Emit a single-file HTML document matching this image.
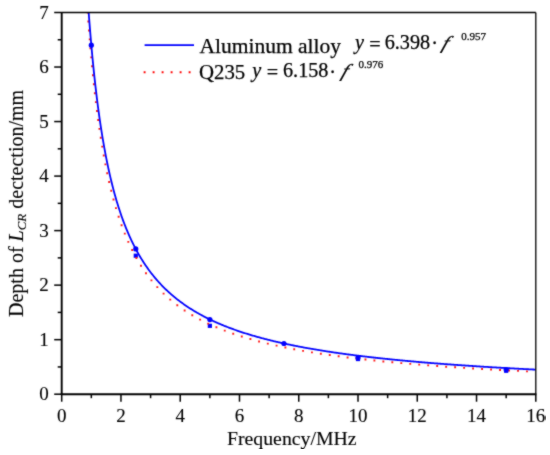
<!DOCTYPE html>
<html><head><meta charset="utf-8"><style>
html,body{margin:0;padding:0;background:#fff;}
body{width:550px;height:455px;overflow:hidden;}
svg{display:block;}
text{stroke:#000;stroke-width:0.12px;}
.lg{stroke-width:0.25px;}
</style></head><body>
<svg width="550" height="455" viewBox="0 0 550 455">
<defs><filter id="soft" x="0" y="0" width="100%" height="100%" color-interpolation-filters="sRGB"><feConvolveMatrix order="3" kernelMatrix="1 2 1 2 16 2 1 2 1" divisor="28" edgeMode="duplicate"/></filter></defs>
<rect width="550" height="455" fill="#fff"/>
<g filter="url(#soft)">
<defs><clipPath id="c"><rect x="61.7" y="12.5" width="474.09999999999997" height="381.7"/></clipPath></defs>
<rect x="133.68" y="253.60" width="4.2" height="4.2" fill="#0000ff"/>
<rect x="207.76" y="323.72" width="4.2" height="4.2" fill="#0000ff"/>
<rect x="355.91" y="356.93" width="4.2" height="4.2" fill="#0000ff"/>
<rect x="504.07" y="368.65" width="4.2" height="4.2" fill="#0000ff"/>
<g clip-path="url(#c)">
<path d="M87.69,12.50 L88.43,22.91 L89.18,32.76 L89.93,42.10 L90.67,50.96 L91.42,59.38 L92.17,67.40 L92.91,75.03 L93.66,82.31 L94.41,89.27 L95.15,95.91 L95.90,102.27 L96.65,108.36 L97.39,114.20 L98.14,119.80 L98.89,125.18 L99.63,130.35 L100.38,135.33 L101.13,140.11 L101.88,144.72 L102.62,149.17 L103.37,153.46 L104.12,157.60 L104.86,161.59 L105.61,165.45 L106.36,169.19 L107.10,172.80 L107.85,176.30 L108.60,179.69 L109.34,182.97 L110.09,186.15 L110.84,189.24 L111.58,192.23 L112.33,195.14 L113.08,197.97 L113.83,200.71 L114.57,203.38 L115.32,205.97 L116.07,208.50 L116.81,210.96 L117.56,213.35 L118.31,215.68 L119.05,217.95 L119.80,220.16 L120.55,222.31 L121.29,224.42 L122.04,226.47 L122.79,228.47 L123.53,230.42 L124.28,232.33 L125.03,234.19 L125.77,236.02 L126.52,237.79 L127.27,239.53 L128.02,241.23 L128.76,242.90 L129.51,244.52 L130.26,246.11 L131.00,247.67 L131.75,249.20 L132.50,250.69 L133.24,252.15 L133.99,253.59 L134.74,254.99 L135.48,256.36 L136.23,257.71 L136.98,259.03 L137.72,260.33 L138.47,261.60 L139.22,262.85 L139.97,264.07 L140.71,265.27 L141.46,266.45 L142.21,267.61 L142.95,268.74 L143.70,269.86 L144.45,270.95 L145.19,272.03 L145.94,273.09 L146.69,274.13 L147.43,275.15 L148.18,276.15 L148.93,277.14 L149.67,278.11 L150.42,279.06 L151.17,280.00 L151.91,280.92 L152.66,281.83 L153.41,282.72 L154.16,283.60 L154.90,284.47 L155.65,285.32 L156.40,286.16 L157.14,286.98 L157.89,287.80 L158.64,288.60 L159.38,289.38 L160.13,290.16 L160.88,290.93 L161.62,291.68 L162.37,292.42 L163.12,293.15 L163.86,293.87 L164.61,294.58 L165.36,295.28 L166.11,295.98 L166.85,296.66 L167.60,297.33 L168.35,297.99 L169.09,298.64 L169.84,299.29 L170.59,299.92 L171.33,300.55 L172.08,301.17 L172.83,301.78 L173.57,302.38 L174.32,302.98 L175.07,303.56 L175.81,304.14 L176.56,304.71 L177.31,305.28 L178.05,305.83 L178.80,306.38 L179.55,306.93 L180.30,307.46 L181.04,307.99 L181.79,308.52 L182.54,309.03 L183.28,309.54 L184.03,310.05 L184.78,310.55 L185.52,311.04 L186.27,311.53 L187.02,312.01 L187.76,312.48 L188.51,312.95 L189.26,313.42 L190.00,313.88 L190.75,314.33 L191.50,314.78 L192.25,315.22 L192.99,315.66 L193.74,316.09 L194.49,316.52 L195.23,316.95 L195.98,317.37 L196.73,317.78 L197.47,318.19 L198.22,318.60 L198.97,319.00 L199.71,319.40 L200.46,319.79 L201.21,320.18 L201.95,320.56 L202.70,320.94 L203.45,321.32 L204.19,321.69 L204.94,322.06 L205.69,322.43 L206.44,322.79 L207.18,323.15 L207.93,323.50 L208.68,323.85 L209.42,324.20 L210.17,324.54 L210.92,324.88 L211.66,325.22 L212.41,325.55 L213.16,325.88 L213.90,326.21 L214.65,326.53 L215.40,326.86 L216.14,327.17 L216.89,327.49 L217.64,327.80 L218.39,328.11 L219.13,328.41 L219.88,328.72 L220.63,329.02 L221.37,329.32 L222.12,329.61 L222.87,329.90 L223.61,330.19 L224.36,330.48 L225.11,330.76 L225.85,331.05 L226.60,331.32 L227.35,331.60 L228.09,331.88 L228.84,332.15 L229.59,332.42 L230.33,332.68 L231.08,332.95 L231.83,333.21 L232.58,333.47 L233.32,333.73 L234.07,333.98 L234.82,334.24 L235.56,334.49 L236.31,334.74 L237.06,334.99 L237.80,335.23 L238.55,335.47 L239.30,335.72 L240.04,335.95 L240.79,336.19 L241.54,336.43 L242.28,336.66 L243.03,336.89 L243.78,337.12 L244.53,337.35 L245.27,337.57 L246.02,337.80 L246.77,338.02 L247.51,338.24 L248.26,338.46 L249.01,338.68 L249.75,338.89 L250.50,339.10 L251.25,339.32 L251.99,339.53 L252.74,339.74 L253.49,339.94 L254.23,340.15 L254.98,340.35 L255.73,340.55 L256.47,340.75 L257.22,340.95 L257.97,341.15 L258.72,341.35 L259.46,341.54 L260.21,341.74 L260.96,341.93 L261.70,342.12 L262.45,342.31 L263.20,342.50 L263.94,342.68 L264.69,342.87 L265.44,343.05 L266.18,343.23 L266.93,343.41 L267.68,343.59 L268.42,343.77 L269.17,343.95 L269.92,344.13 L270.67,344.30 L271.41,344.47 L272.16,344.65 L272.91,344.82 L273.65,344.99 L274.40,345.16 L275.15,345.32 L275.89,345.49 L276.64,345.65 L277.39,345.82 L278.13,345.98 L278.88,346.14 L279.63,346.30 L280.37,346.46 L281.12,346.62 L281.87,346.78 L282.62,346.94 L283.36,347.09 L284.11,347.25 L284.86,347.40 L285.60,347.55 L286.35,347.70 L287.10,347.85 L287.84,348.00 L288.59,348.15 L289.34,348.30 L290.08,348.45 L290.83,348.59 L291.58,348.74 L292.32,348.88 L293.07,349.02 L293.82,349.16 L294.56,349.30 L295.31,349.45 L296.06,349.58 L296.81,349.72 L297.55,349.86 L298.30,350.00 L299.05,350.13 L299.79,350.27 L300.54,350.40 L301.29,350.53 L302.03,350.67 L302.78,350.80 L303.53,350.93 L304.27,351.06 L305.02,351.19 L305.77,351.32 L306.51,351.45 L307.26,351.57 L308.01,351.70 L308.76,351.82 L309.50,351.95 L310.25,352.07 L311.00,352.20 L311.74,352.32 L312.49,352.44 L313.24,352.56 L313.98,352.68 L314.73,352.80 L315.48,352.92 L316.22,353.04 L316.97,353.16 L317.72,353.27 L318.46,353.39 L319.21,353.50 L319.96,353.62 L320.70,353.73 L321.45,353.85 L322.20,353.96 L322.95,354.07 L323.69,354.18 L324.44,354.29 L325.19,354.40 L325.93,354.51 L326.68,354.62 L327.43,354.73 L328.17,354.84 L328.92,354.95 L329.67,355.05 L330.41,355.16 L331.16,355.27 L331.91,355.37 L332.65,355.48 L333.40,355.58 L334.15,355.68 L334.90,355.79 L335.64,355.89 L336.39,355.99 L337.14,356.09 L337.88,356.19 L338.63,356.29 L339.38,356.39 L340.12,356.49 L340.87,356.59 L341.62,356.69 L342.36,356.78 L343.11,356.88 L343.86,356.98 L344.60,357.07 L345.35,357.17 L346.10,357.26 L346.84,357.36 L347.59,357.45 L348.34,357.55 L349.09,357.64 L349.83,357.73 L350.58,357.82 L351.33,357.91 L352.07,358.01 L352.82,358.10 L353.57,358.19 L354.31,358.28 L355.06,358.36 L355.81,358.45 L356.55,358.54 L357.30,358.63 L358.05,358.72 L358.79,358.80 L359.54,358.89 L360.29,358.98 L361.04,359.06 L361.78,359.15 L362.53,359.23 L363.28,359.32 L364.02,359.40 L364.77,359.49 L365.52,359.57 L366.26,359.65 L367.01,359.73 L367.76,359.82 L368.50,359.90 L369.25,359.98 L370.00,360.06 L370.74,360.14 L371.49,360.22 L372.24,360.30 L372.98,360.38 L373.73,360.46 L374.48,360.54 L375.23,360.62 L375.97,360.69 L376.72,360.77 L377.47,360.85 L378.21,360.93 L378.96,361.00 L379.71,361.08 L380.45,361.15 L381.20,361.23 L381.95,361.30 L382.69,361.38 L383.44,361.45 L384.19,361.53 L384.93,361.60 L385.68,361.67 L386.43,361.75 L387.18,361.82 L387.92,361.89 L388.67,361.96 L389.42,362.04 L390.16,362.11 L390.91,362.18 L391.66,362.25 L392.40,362.32 L393.15,362.39 L393.90,362.46 L394.64,362.53 L395.39,362.60 L396.14,362.67 L396.88,362.74 L397.63,362.80 L398.38,362.87 L399.12,362.94 L399.87,363.01 L400.62,363.07 L401.37,363.14 L402.11,363.21 L402.86,363.27 L403.61,363.34 L404.35,363.41 L405.10,363.47 L405.85,363.54 L406.59,363.60 L407.34,363.67 L408.09,363.73 L408.83,363.79 L409.58,363.86 L410.33,363.92 L411.07,363.98 L411.82,364.05 L412.57,364.11 L413.32,364.17 L414.06,364.23 L414.81,364.30 L415.56,364.36 L416.30,364.42 L417.05,364.48 L417.80,364.54 L418.54,364.60 L419.29,364.66 L420.04,364.72 L420.78,364.78 L421.53,364.84 L422.28,364.90 L423.02,364.96 L423.77,365.02 L424.52,365.08 L425.26,365.14 L426.01,365.19 L426.76,365.25 L427.51,365.31 L428.25,365.37 L429.00,365.42 L429.75,365.48 L430.49,365.54 L431.24,365.59 L431.99,365.65 L432.73,365.71 L433.48,365.76 L434.23,365.82 L434.97,365.87 L435.72,365.93 L436.47,365.98 L437.21,366.04 L437.96,366.09 L438.71,366.15 L439.46,366.20 L440.20,366.26 L440.95,366.31 L441.70,366.36 L442.44,366.42 L443.19,366.47 L443.94,366.52 L444.68,366.57 L445.43,366.63 L446.18,366.68 L446.92,366.73 L447.67,366.78 L448.42,366.84 L449.16,366.89 L449.91,366.94 L450.66,366.99 L451.41,367.04 L452.15,367.09 L452.90,367.14 L453.65,367.19 L454.39,367.24 L455.14,367.29 L455.89,367.34 L456.63,367.39 L457.38,367.44 L458.13,367.49 L458.87,367.54 L459.62,367.59 L460.37,367.64 L461.11,367.68 L461.86,367.73 L462.61,367.78 L463.35,367.83 L464.10,367.88 L464.85,367.92 L465.60,367.97 L466.34,368.02 L467.09,368.07 L467.84,368.11 L468.58,368.16 L469.33,368.21 L470.08,368.25 L470.82,368.30 L471.57,368.34 L472.32,368.39 L473.06,368.44 L473.81,368.48 L474.56,368.53 L475.30,368.57 L476.05,368.62 L476.80,368.66 L477.55,368.71 L478.29,368.75 L479.04,368.80 L479.79,368.84 L480.53,368.88 L481.28,368.93 L482.03,368.97 L482.77,369.02 L483.52,369.06 L484.27,369.10 L485.01,369.15 L485.76,369.19 L486.51,369.23 L487.25,369.28 L488.00,369.32 L488.75,369.36 L489.49,369.40 L490.24,369.44 L490.99,369.49 L491.74,369.53 L492.48,369.57 L493.23,369.61 L493.98,369.65 L494.72,369.69 L495.47,369.74 L496.22,369.78 L496.96,369.82 L497.71,369.86 L498.46,369.90 L499.20,369.94 L499.95,369.98 L500.70,370.02 L501.44,370.06 L502.19,370.10 L502.94,370.14 L503.69,370.18 L504.43,370.22 L505.18,370.26 L505.93,370.30 L506.67,370.34 L507.42,370.38 L508.17,370.42 L508.91,370.45 L509.66,370.49 L510.41,370.53 L511.15,370.57 L511.90,370.61 L512.65,370.65 L513.39,370.68 L514.14,370.72 L514.89,370.76 L515.63,370.80 L516.38,370.83 L517.13,370.87 L517.88,370.91 L518.62,370.95 L519.37,370.98 L520.12,371.02 L520.86,371.06 L521.61,371.09 L522.36,371.13 L523.10,371.17 L523.85,371.20 L524.60,371.24 L525.34,371.28 L526.09,371.31 L526.84,371.35 L527.58,371.38 L528.33,371.42 L529.08,371.45 L529.83,371.49 L530.57,371.53 L531.32,371.56 L532.07,371.60 L532.81,371.63 L533.56,371.67 L534.31,371.70 L535.05,371.73 L535.80,371.77" fill="none" stroke="#ff1a1a" stroke-width="1.9" stroke-dasharray="0 9" stroke-linecap="square"/>
<path d="M88.67,12.50 L89.42,22.33 L90.16,31.65 L90.91,40.51 L91.65,48.93 L92.40,56.96 L93.15,64.61 L93.89,71.91 L94.64,78.90 L95.38,85.58 L96.13,91.97 L96.87,98.10 L97.62,103.99 L98.36,109.63 L99.11,115.06 L99.85,120.28 L100.60,125.31 L101.34,130.14 L102.09,134.81 L102.83,139.31 L103.58,143.65 L104.32,147.84 L105.07,151.90 L105.81,155.82 L106.56,159.61 L107.30,163.28 L108.05,166.83 L108.79,170.28 L109.54,173.61 L110.28,176.85 L111.03,180.00 L111.78,183.05 L112.52,186.01 L113.27,188.89 L114.01,191.69 L114.76,194.42 L115.50,197.06 L116.25,199.64 L116.99,202.15 L117.74,204.60 L118.48,206.98 L119.23,209.30 L119.97,211.57 L120.72,213.77 L121.46,215.93 L122.21,218.03 L122.95,220.08 L123.70,222.08 L124.44,224.04 L125.19,225.95 L125.93,227.82 L126.68,229.65 L127.42,231.43 L128.17,233.18 L128.92,234.89 L129.66,236.56 L130.41,238.20 L131.15,239.80 L131.90,241.37 L132.64,242.91 L133.39,244.41 L134.13,245.89 L134.88,247.33 L135.62,248.75 L136.37,250.14 L137.11,251.50 L137.86,252.84 L138.60,254.15 L139.35,255.44 L140.09,256.70 L140.84,257.94 L141.58,259.15 L142.33,260.35 L143.07,261.52 L143.82,262.67 L144.56,263.81 L145.31,264.92 L146.05,266.01 L146.80,267.09 L147.55,268.14 L148.29,269.18 L149.04,270.20 L149.78,271.21 L150.53,272.19 L151.27,273.17 L152.02,274.12 L152.76,275.06 L153.51,275.99 L154.25,276.90 L155.00,277.80 L155.74,278.68 L156.49,279.55 L157.23,280.40 L157.98,281.25 L158.72,282.08 L159.47,282.90 L160.21,283.70 L160.96,284.50 L161.70,285.28 L162.45,286.05 L163.19,286.81 L163.94,287.56 L164.69,288.30 L165.43,289.03 L166.18,289.74 L166.92,290.45 L167.67,291.15 L168.41,291.84 L169.16,292.52 L169.90,293.19 L170.65,293.85 L171.39,294.50 L172.14,295.15 L172.88,295.78 L173.63,296.41 L174.37,297.03 L175.12,297.64 L175.86,298.24 L176.61,298.84 L177.35,299.43 L178.10,300.01 L178.84,300.58 L179.59,301.15 L180.33,301.71 L181.08,302.26 L181.83,302.80 L182.57,303.34 L183.32,303.88 L184.06,304.40 L184.81,304.92 L185.55,305.44 L186.30,305.95 L187.04,306.45 L187.79,306.94 L188.53,307.44 L189.28,307.92 L190.02,308.40 L190.77,308.87 L191.51,309.34 L192.26,309.81 L193.00,310.26 L193.75,310.72 L194.49,311.17 L195.24,311.61 L195.98,312.05 L196.73,312.48 L197.47,312.91 L198.22,313.34 L198.96,313.76 L199.71,314.17 L200.46,314.58 L201.20,314.99 L201.95,315.39 L202.69,315.79 L203.44,316.19 L204.18,316.58 L204.93,316.96 L205.67,317.35 L206.42,317.73 L207.16,318.10 L207.91,318.47 L208.65,318.84 L209.40,319.20 L210.14,319.56 L210.89,319.92 L211.63,320.27 L212.38,320.62 L213.12,320.97 L213.87,321.31 L214.61,321.65 L215.36,321.99 L216.10,322.32 L216.85,322.65 L217.60,322.98 L218.34,323.31 L219.09,323.63 L219.83,323.95 L220.58,324.26 L221.32,324.57 L222.07,324.88 L222.81,325.19 L223.56,325.49 L224.30,325.80 L225.05,326.09 L225.79,326.39 L226.54,326.68 L227.28,326.97 L228.03,327.26 L228.77,327.55 L229.52,327.83 L230.26,328.11 L231.01,328.39 L231.75,328.67 L232.50,328.94 L233.24,329.21 L233.99,329.48 L234.73,329.75 L235.48,330.01 L236.23,330.27 L236.97,330.53 L237.72,330.79 L238.46,331.05 L239.21,331.30 L239.95,331.55 L240.70,331.80 L241.44,332.05 L242.19,332.30 L242.93,332.54 L243.68,332.78 L244.42,333.02 L245.17,333.26 L245.91,333.50 L246.66,333.73 L247.40,333.96 L248.15,334.19 L248.89,334.42 L249.64,334.65 L250.38,334.87 L251.13,335.10 L251.87,335.32 L252.62,335.54 L253.37,335.76 L254.11,335.97 L254.86,336.19 L255.60,336.40 L256.35,336.61 L257.09,336.82 L257.84,337.03 L258.58,337.24 L259.33,337.44 L260.07,337.65 L260.82,337.85 L261.56,338.05 L262.31,338.25 L263.05,338.45 L263.80,338.65 L264.54,338.84 L265.29,339.04 L266.03,339.23 L266.78,339.42 L267.52,339.61 L268.27,339.80 L269.01,339.99 L269.76,340.17 L270.51,340.36 L271.25,340.54 L272.00,340.72 L272.74,340.90 L273.49,341.08 L274.23,341.26 L274.98,341.44 L275.72,341.61 L276.47,341.79 L277.21,341.96 L277.96,342.13 L278.70,342.30 L279.45,342.47 L280.19,342.64 L280.94,342.81 L281.68,342.98 L282.43,343.14 L283.17,343.31 L283.92,343.47 L284.66,343.63 L285.41,343.79 L286.15,343.95 L286.90,344.11 L287.64,344.27 L288.39,344.43 L289.14,344.58 L289.88,344.74 L290.63,344.89 L291.37,345.05 L292.12,345.20 L292.86,345.35 L293.61,345.50 L294.35,345.65 L295.10,345.80 L295.84,345.95 L296.59,346.09 L297.33,346.24 L298.08,346.38 L298.82,346.53 L299.57,346.67 L300.31,346.81 L301.06,346.95 L301.80,347.09 L302.55,347.23 L303.29,347.37 L304.04,347.51 L304.78,347.65 L305.53,347.78 L306.28,347.92 L307.02,348.05 L307.77,348.19 L308.51,348.32 L309.26,348.45 L310.00,348.58 L310.75,348.71 L311.49,348.84 L312.24,348.97 L312.98,349.10 L313.73,349.23 L314.47,349.35 L315.22,349.48 L315.96,349.61 L316.71,349.73 L317.45,349.85 L318.20,349.98 L318.94,350.10 L319.69,350.22 L320.43,350.34 L321.18,350.46 L321.92,350.58 L322.67,350.70 L323.42,350.82 L324.16,350.94 L324.91,351.06 L325.65,351.17 L326.40,351.29 L327.14,351.40 L327.89,351.52 L328.63,351.63 L329.38,351.75 L330.12,351.86 L330.87,351.97 L331.61,352.08 L332.36,352.19 L333.10,352.30 L333.85,352.41 L334.59,352.52 L335.34,352.63 L336.08,352.74 L336.83,352.85 L337.57,352.95 L338.32,353.06 L339.06,353.17 L339.81,353.27 L340.55,353.38 L341.30,353.48 L342.05,353.58 L342.79,353.69 L343.54,353.79 L344.28,353.89 L345.03,353.99 L345.77,354.09 L346.52,354.20 L347.26,354.29 L348.01,354.39 L348.75,354.49 L349.50,354.59 L350.24,354.69 L350.99,354.79 L351.73,354.88 L352.48,354.98 L353.22,355.08 L353.97,355.17 L354.71,355.27 L355.46,355.36 L356.20,355.46 L356.95,355.55 L357.69,355.64 L358.44,355.73 L359.19,355.83 L359.93,355.92 L360.68,356.01 L361.42,356.10 L362.17,356.19 L362.91,356.28 L363.66,356.37 L364.40,356.46 L365.15,356.55 L365.89,356.64 L366.64,356.72 L367.38,356.81 L368.13,356.90 L368.87,356.99 L369.62,357.07 L370.36,357.16 L371.11,357.24 L371.85,357.33 L372.60,357.41 L373.34,357.50 L374.09,357.58 L374.83,357.66 L375.58,357.75 L376.32,357.83 L377.07,357.91 L377.82,357.99 L378.56,358.08 L379.31,358.16 L380.05,358.24 L380.80,358.32 L381.54,358.40 L382.29,358.48 L383.03,358.56 L383.78,358.64 L384.52,358.71 L385.27,358.79 L386.01,358.87 L386.76,358.95 L387.50,359.02 L388.25,359.10 L388.99,359.18 L389.74,359.25 L390.48,359.33 L391.23,359.41 L391.97,359.48 L392.72,359.56 L393.46,359.63 L394.21,359.70 L394.96,359.78 L395.70,359.85 L396.45,359.92 L397.19,360.00 L397.94,360.07 L398.68,360.14 L399.43,360.21 L400.17,360.29 L400.92,360.36 L401.66,360.43 L402.41,360.50 L403.15,360.57 L403.90,360.64 L404.64,360.71 L405.39,360.78 L406.13,360.85 L406.88,360.92 L407.62,360.99 L408.37,361.05 L409.11,361.12 L409.86,361.19 L410.60,361.26 L411.35,361.32 L412.10,361.39 L412.84,361.46 L413.59,361.52 L414.33,361.59 L415.08,361.66 L415.82,361.72 L416.57,361.79 L417.31,361.85 L418.06,361.92 L418.80,361.98 L419.55,362.05 L420.29,362.11 L421.04,362.17 L421.78,362.24 L422.53,362.30 L423.27,362.36 L424.02,362.43 L424.76,362.49 L425.51,362.55 L426.25,362.61 L427.00,362.67 L427.74,362.73 L428.49,362.80 L429.23,362.86 L429.98,362.92 L430.73,362.98 L431.47,363.04 L432.22,363.10 L432.96,363.16 L433.71,363.22 L434.45,363.28 L435.20,363.34 L435.94,363.39 L436.69,363.45 L437.43,363.51 L438.18,363.57 L438.92,363.63 L439.67,363.69 L440.41,363.74 L441.16,363.80 L441.90,363.86 L442.65,363.91 L443.39,363.97 L444.14,364.03 L444.88,364.08 L445.63,364.14 L446.37,364.19 L447.12,364.25 L447.87,364.31 L448.61,364.36 L449.36,364.42 L450.10,364.47 L450.85,364.52 L451.59,364.58 L452.34,364.63 L453.08,364.69 L453.83,364.74 L454.57,364.79 L455.32,364.85 L456.06,364.90 L456.81,364.95 L457.55,365.01 L458.30,365.06 L459.04,365.11 L459.79,365.16 L460.53,365.21 L461.28,365.27 L462.02,365.32 L462.77,365.37 L463.51,365.42 L464.26,365.47 L465.01,365.52 L465.75,365.57 L466.50,365.62 L467.24,365.67 L467.99,365.72 L468.73,365.77 L469.48,365.82 L470.22,365.87 L470.97,365.92 L471.71,365.97 L472.46,366.02 L473.20,366.07 L473.95,366.12 L474.69,366.17 L475.44,366.21 L476.18,366.26 L476.93,366.31 L477.67,366.36 L478.42,366.41 L479.16,366.45 L479.91,366.50 L480.65,366.55 L481.40,366.60 L482.14,366.64 L482.89,366.69 L483.64,366.74 L484.38,366.78 L485.13,366.83 L485.87,366.87 L486.62,366.92 L487.36,366.97 L488.11,367.01 L488.85,367.06 L489.60,367.10 L490.34,367.15 L491.09,367.19 L491.83,367.24 L492.58,367.28 L493.32,367.33 L494.07,367.37 L494.81,367.41 L495.56,367.46 L496.30,367.50 L497.05,367.55 L497.79,367.59 L498.54,367.63 L499.28,367.68 L500.03,367.72 L500.78,367.76 L501.52,367.81 L502.27,367.85 L503.01,367.89 L503.76,367.93 L504.50,367.98 L505.25,368.02 L505.99,368.06 L506.74,368.10 L507.48,368.14 L508.23,368.18 L508.97,368.23 L509.72,368.27 L510.46,368.31 L511.21,368.35 L511.95,368.39 L512.70,368.43 L513.44,368.47 L514.19,368.51 L514.93,368.55 L515.68,368.59 L516.42,368.63 L517.17,368.67 L517.91,368.71 L518.66,368.75 L519.41,368.79 L520.15,368.83 L520.90,368.87 L521.64,368.91 L522.39,368.95 L523.13,368.99 L523.88,369.03 L524.62,369.07 L525.37,369.11 L526.11,369.14 L526.86,369.18 L527.60,369.22 L528.35,369.26 L529.09,369.30 L529.84,369.34 L530.58,369.37 L531.33,369.41 L532.07,369.45 L532.82,369.49 L533.56,369.52 L534.31,369.56 L535.05,369.60 L535.80,369.63" fill="none" stroke="#0000ff" stroke-width="1.8"/>
</g>
<circle cx="91.33" cy="45.22" r="2.6" fill="#0000ff"/>
<circle cx="135.78" cy="248.88" r="2.6" fill="#0000ff"/>
<circle cx="209.86" cy="319.60" r="2.6" fill="#0000ff"/>
<circle cx="283.93" cy="343.49" r="2.6" fill="#0000ff"/>
<circle cx="358.01" cy="357.67" r="2.6" fill="#0000ff"/>
<circle cx="506.17" cy="369.66" r="2.6" fill="#0000ff"/>
<line x1="61.7" y1="12.5" x2="535.8" y2="12.5" stroke="#000" stroke-width="1.3"/>
<line x1="535.8" y1="12.5" x2="535.8" y2="394.2" stroke="#000" stroke-width="1.3"/>
<line x1="61.7" y1="11.9" x2="61.7" y2="395.0" stroke="#000" stroke-width="1.9"/>
<line x1="60.800000000000004" y1="394.2" x2="536.4" y2="394.2" stroke="#000" stroke-width="1.9"/>
<line x1="54.2" y1="394.20" x2="61.7" y2="394.20" stroke="#000" stroke-width="1.5"/>
<line x1="57.7" y1="366.94" x2="61.7" y2="366.94" stroke="#000" stroke-width="1.5"/>
<text x="48.8" y="400.40" font-family='"Liberation Serif", "Times New Roman", serif' font-size="19" text-anchor="end">0</text>
<line x1="54.2" y1="339.67" x2="61.7" y2="339.67" stroke="#000" stroke-width="1.5"/>
<line x1="57.7" y1="312.41" x2="61.7" y2="312.41" stroke="#000" stroke-width="1.5"/>
<text x="48.8" y="345.87" font-family='"Liberation Serif", "Times New Roman", serif' font-size="19" text-anchor="end">1</text>
<line x1="54.2" y1="285.14" x2="61.7" y2="285.14" stroke="#000" stroke-width="1.5"/>
<line x1="57.7" y1="257.88" x2="61.7" y2="257.88" stroke="#000" stroke-width="1.5"/>
<text x="48.8" y="291.34" font-family='"Liberation Serif", "Times New Roman", serif' font-size="19" text-anchor="end">2</text>
<line x1="54.2" y1="230.61" x2="61.7" y2="230.61" stroke="#000" stroke-width="1.5"/>
<line x1="57.7" y1="203.35" x2="61.7" y2="203.35" stroke="#000" stroke-width="1.5"/>
<text x="48.8" y="236.81" font-family='"Liberation Serif", "Times New Roman", serif' font-size="19" text-anchor="end">3</text>
<line x1="54.2" y1="176.09" x2="61.7" y2="176.09" stroke="#000" stroke-width="1.5"/>
<line x1="57.7" y1="148.82" x2="61.7" y2="148.82" stroke="#000" stroke-width="1.5"/>
<text x="48.8" y="182.29" font-family='"Liberation Serif", "Times New Roman", serif' font-size="19" text-anchor="end">4</text>
<line x1="54.2" y1="121.56" x2="61.7" y2="121.56" stroke="#000" stroke-width="1.5"/>
<line x1="57.7" y1="94.29" x2="61.7" y2="94.29" stroke="#000" stroke-width="1.5"/>
<text x="48.8" y="127.76" font-family='"Liberation Serif", "Times New Roman", serif' font-size="19" text-anchor="end">5</text>
<line x1="54.2" y1="67.03" x2="61.7" y2="67.03" stroke="#000" stroke-width="1.5"/>
<line x1="57.7" y1="39.76" x2="61.7" y2="39.76" stroke="#000" stroke-width="1.5"/>
<text x="48.8" y="73.23" font-family='"Liberation Serif", "Times New Roman", serif' font-size="19" text-anchor="end">6</text>
<line x1="54.2" y1="12.50" x2="61.7" y2="12.50" stroke="#000" stroke-width="1.5"/>
<text x="48.8" y="18.70" font-family='"Liberation Serif", "Times New Roman", serif' font-size="19" text-anchor="end">7</text>
<line x1="61.70" y1="394.2" x2="61.70" y2="401.7" stroke="#000" stroke-width="1.5"/>
<line x1="91.33" y1="394.2" x2="91.33" y2="398.2" stroke="#000" stroke-width="1.5"/>
<text x="61.70" y="422.2" font-family='"Liberation Serif", "Times New Roman", serif' font-size="19" text-anchor="middle">0</text>
<line x1="120.96" y1="394.2" x2="120.96" y2="401.7" stroke="#000" stroke-width="1.5"/>
<line x1="150.59" y1="394.2" x2="150.59" y2="398.2" stroke="#000" stroke-width="1.5"/>
<text x="120.96" y="422.2" font-family='"Liberation Serif", "Times New Roman", serif' font-size="19" text-anchor="middle">2</text>
<line x1="180.22" y1="394.2" x2="180.22" y2="401.7" stroke="#000" stroke-width="1.5"/>
<line x1="209.86" y1="394.2" x2="209.86" y2="398.2" stroke="#000" stroke-width="1.5"/>
<text x="180.22" y="422.2" font-family='"Liberation Serif", "Times New Roman", serif' font-size="19" text-anchor="middle">4</text>
<line x1="239.49" y1="394.2" x2="239.49" y2="401.7" stroke="#000" stroke-width="1.5"/>
<line x1="269.12" y1="394.2" x2="269.12" y2="398.2" stroke="#000" stroke-width="1.5"/>
<text x="239.49" y="422.2" font-family='"Liberation Serif", "Times New Roman", serif' font-size="19" text-anchor="middle">6</text>
<line x1="298.75" y1="394.2" x2="298.75" y2="401.7" stroke="#000" stroke-width="1.5"/>
<line x1="328.38" y1="394.2" x2="328.38" y2="398.2" stroke="#000" stroke-width="1.5"/>
<text x="298.75" y="422.2" font-family='"Liberation Serif", "Times New Roman", serif' font-size="19" text-anchor="middle">8</text>
<line x1="358.01" y1="394.2" x2="358.01" y2="401.7" stroke="#000" stroke-width="1.5"/>
<line x1="387.64" y1="394.2" x2="387.64" y2="398.2" stroke="#000" stroke-width="1.5"/>
<text x="358.01" y="422.2" font-family='"Liberation Serif", "Times New Roman", serif' font-size="19" text-anchor="middle">10</text>
<line x1="417.27" y1="394.2" x2="417.27" y2="401.7" stroke="#000" stroke-width="1.5"/>
<line x1="446.91" y1="394.2" x2="446.91" y2="398.2" stroke="#000" stroke-width="1.5"/>
<text x="417.27" y="422.2" font-family='"Liberation Serif", "Times New Roman", serif' font-size="19" text-anchor="middle">12</text>
<line x1="476.54" y1="394.2" x2="476.54" y2="401.7" stroke="#000" stroke-width="1.5"/>
<line x1="506.17" y1="394.2" x2="506.17" y2="398.2" stroke="#000" stroke-width="1.5"/>
<text x="476.54" y="422.2" font-family='"Liberation Serif", "Times New Roman", serif' font-size="19" text-anchor="middle">14</text>
<line x1="535.80" y1="394.2" x2="535.80" y2="401.7" stroke="#000" stroke-width="1.5"/>
<text x="535.80" y="422.2" font-family='"Liberation Serif", "Times New Roman", serif' font-size="19" text-anchor="middle">16</text>
<text x="291.8" y="445" font-family='"Liberation Serif", "Times New Roman", serif' font-size="19.8" text-anchor="middle">Frequency/MHz</text>
<text transform="translate(23,317) rotate(-90)" font-family='"Liberation Serif", "Times New Roman", serif' font-size="20" text-anchor="start">Depth of <tspan font-style="italic">L</tspan><tspan font-style="italic" font-size="13" dy="3">CR</tspan><tspan dy="-3"> dectection/mm</tspan></text>
<line x1="144.6" y1="45.2" x2="194" y2="45.2" stroke="#0000ff" stroke-width="1.7"/>
<line x1="144.6" y1="72.2" x2="194" y2="72.2" stroke="#ff0000" stroke-width="1.9" stroke-dasharray="0 9" stroke-linecap="square"/>
<text class="lg" x="199.5" y="52.6" font-family='"Liberation Serif", "Times New Roman", serif' font-size="21.5" text-anchor="start">Aluminum alloy</text>
<text class="lg" x="354.9" y="48.8" font-family='"Liberation Serif", "Times New Roman", serif' font-size="20.2" font-style="italic" text-anchor="start">y</text>
<text class="lg" x="369.3" y="50.8" font-family='"Liberation Serif", "Times New Roman", serif' font-size="20.2" text-anchor="start">=</text>
<text class="lg" x="384.7" y="48.8" font-family='"Liberation Serif", "Times New Roman", serif' font-size="20.2" text-anchor="start">6.398</text>
<text class="lg" x="431.2" y="50.4" font-family='"Liberation Serif", "Times New Roman", serif' font-size="20.2" text-anchor="start">·</text>
<text class="lg" transform="translate(445.30,48.80) scale(1.05,0.92) skewX(-17)" x="-4" y="0" font-family='"Liberation Serif", "Times New Roman", serif' font-size="20.2" font-style="italic">f</text>
<text class="lg" x="461.2" y="39.6" font-family='"Liberation Serif", "Times New Roman", serif' font-size="11" text-anchor="start">0.957</text>
<text class="lg" x="199.0" y="79.0" font-family='"Liberation Serif", "Times New Roman", serif' font-size="20.8" text-anchor="start">Q235</text>
<text class="lg" x="252.2" y="77.0" font-family='"Liberation Serif", "Times New Roman", serif' font-size="20.2" font-style="italic" text-anchor="start">y</text>
<text class="lg" x="266.7" y="78.8" font-family='"Liberation Serif", "Times New Roman", serif' font-size="20.2" text-anchor="start">=</text>
<text class="lg" x="283.0" y="77.0" font-family='"Liberation Serif", "Times New Roman", serif' font-size="20.2" text-anchor="start">6.158</text>
<text class="lg" x="329.2" y="78.7" font-family='"Liberation Serif", "Times New Roman", serif' font-size="20.2" text-anchor="start">·</text>
<text class="lg" transform="translate(344.60,77.00) scale(1.05,0.92) skewX(-17)" x="-4" y="0" font-family='"Liberation Serif", "Times New Roman", serif' font-size="20.2" font-style="italic">f</text>
<text class="lg" x="358.6" y="67.8" font-family='"Liberation Serif", "Times New Roman", serif' font-size="11" text-anchor="start">0.976</text>
</g>
</svg>
</body></html>
